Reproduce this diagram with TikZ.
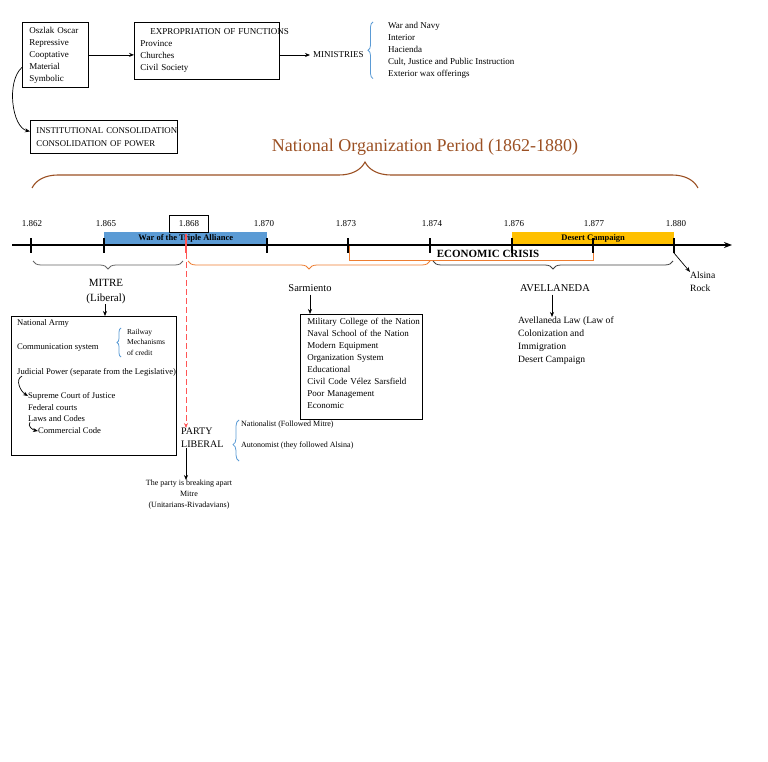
\documentclass[tikz,border=0pt]{standalone}
\usepackage{fontspec}
\setmainfont{Liberation Serif}
\usepackage{tikz}
\usetikzlibrary{arrows.meta, positioning, decorations.pathreplacing}
\usepackage{xcolor}

\definecolor{periodbrown}{RGB}{155,80,35}
\definecolor{warblue}{RGB}{91,155,213}
\definecolor{desertgold}{RGB}{255,192,0}
\definecolor{crisisorange}{RGB}{237,125,49}
\definecolor{dashred}{RGB}{255,85,85}
\definecolor{bracegray}{RGB}{100,100,100}

\newcommand{\fsz}[2]{\fontsize{#1}{#2}\selectfont}

\begin{document}
\begin{tikzpicture}[
		x=1pt, y=-1pt,
		box/.style={
			rectangle,
			draw,
			line width=0.8pt,
			anchor=north west,
			align=left,
			inner xsep=6pt,
			inner ysep=4pt,
			font=\fsz{9}{12}
		},
		txt/.style={
			inner sep=0pt,
			anchor=west,
			align=left,
			font=\fsz{9}{12}
		},
		bar/.style={
			rectangle,
			anchor=south west,
			minimum height=13pt,
			inner sep=0pt,
			font=\bfseries\fsz{8.5}{10}
		},
		year/.style={
			inner sep=0pt,
			font=\fsz{9}{10}
		},
		arrow/.style={
			-{Stealth[length=5pt, width=4pt]},
			line width=0.7pt
		},
		reddash/.style={
			dashred,
			line width=1pt,
			dash pattern=on 6pt off 3pt,
			-{Stealth[length=5pt, width=4pt]}
		},
		brace/.style={
			decorate,
			decoration={brace, amplitude=#1},
			line width=0.8pt
		},
		mbrace/.style={
			decorate,
			decoration={brace, mirror, amplitude=#1},
			line width=0.8pt
		}
		]
		\useasboundingbox (0,0) rectangle (768,762);
		
		% top row
		\node[box, text width=52pt, inner xsep=7pt, minimum height=65pt] (oszlak) at (22,22) {Oszlak Oscar\\Repressive\\Cooptative\\Material\\Symbolic};
		
		\node[box, text width=133pt, minimum height=57pt] (expro) at (134,22) {\hspace*{10pt}\mbox{EXPROPRIATION OF FUNCTIONS}\\Province\\Churches\\Civil Society};
		
		\node[txt] (ministries) at (313,55) {MINISTRIES};
		
		\node[txt, anchor=north west] (minlist) at (388,22) {War and Navy\\Interior\\Hacienda\\Cult, Justice and Public Instruction\\Exterior wax offerings};
		
		\node[box, text width=135pt, minimum height=33pt, font=\fsz{8.8}{13}] (instit) at (30,120) {\mbox{INSTITUTIONAL CONSOLIDATION}\\\mbox{CONSOLIDATION OF POWER}};
		%--
		\draw[arrow] (oszlak.east) -- (oszlak.east -| expro.west);
		\draw[arrow] (expro.east |- ministries.west) -- ([xshift=-3pt]ministries.west);
		\draw[brace=5pt, warblue] ([xshift=-15pt]minlist.south west) -- ([xshift=-15pt]minlist.north west);
		\draw[arrow] ([yshift=-12.5pt]oszlak.west) .. controls +(-16,14) and +(-18,-4) .. ([yshift=5.5pt]instit.west);
		
		% period
		\node[font=\fsz{18}{20}, text=periodbrown, inner sep=0pt] (period) at (425,147) {National Organization Period (1862-1880)};
		\draw[brace=26pt, periodbrown, line width=1.1pt] (32,188) -- (698,188);
		
		% timeline
		\node[draw=crisisorange, line width=0.9pt, minimum width=244pt, minimum height=15pt, anchor=north west, inner sep=0pt] (crisis) at (349,245) {};
		\node[font=\bfseries\fsz{11}{12}, inner sep=0pt] (crisislbl) at (488,254) {ECONOMIC CRISIS};
		
		\node[bar, fill=warblue, minimum width=163pt] (war) at (104,245) {War of the Triple Alliance};
		\node[bar, fill=desertgold, minimum width=162pt] (desert) at (512,245) {Desert Campaign};
		
		\coordinate (tstart) at (12,245);
		\coordinate (tend) at (732,245);
		\draw[line width=1.6pt, -{Stealth[length=8pt, width=6pt]}] (tstart) -- (tend);
		
		\foreach \pos/\tx/\yr [count=\i] in {31/32/1.862, 104/106/1.865, 267/264/1.870, 348/346/1.873, 430/432/1.874, 512/514/1.876, 593/594/1.877, 674/676/1.880}{
			\coordinate (t\i) at (\pos,253);
			\draw[line width=1.2pt] (\pos,238) -- (t\i);
			\node[year] (yr\i) at (\tx,224) {\yr};
		}
		
		\node[year, draw, line width=0.8pt, minimum width=39pt, minimum height=17pt] (yr868) at (189,224) {1.868};
		\coordinate (split) at (186,234);
		\draw[dashred, line width=1.2pt] (split) -- ++(0,19);
		
		% braces under the line
		\draw[mbrace=8pt, bracegray] (33,261) -- (183,261);
		\draw[mbrace=8pt, crisisorange] (188,261) -- (430,261);
		\draw[mbrace=8pt, black!75] (433,261) -- (673,261);
		
		% mitre
		\node[font=\fsz{11}{15}, align=center, inner sep=0pt] (mitre) at (106,292) {MITRE\\(Liberal)};
		\node[draw, line width=0.8pt, minimum width=165pt, minimum height=139pt, anchor=north west, inner sep=0pt] (mitrebox) at (11,316) {};
		\draw[arrow] ([xshift=-1pt]mitre.south) -- ([xshift=-1pt]mitre.south |- mitrebox.north);
		
		\node[txt, font=\fsz{8.6}{12}] (army) at (17,323) {National Army};
		\node[txt, font=\fsz{8.6}{12}] (comms) at (17,348) {Communication system};
		\node[txt, anchor=north west, font=\fsz{7.5}{10.5}] (credit) at (127,329) {Railway\\Mechanisms\\of credit};
		\draw[brace=4pt, warblue] (121,357) -- (121,328);
		\node[txt, font=\fsz{8.6}{12}] (judicial) at (17,372) {Judicial Power (separate from the Legislative)};
		\node[txt, font=\fsz{8.6}{12}] (supreme) at (28,396) {Supreme Court of Justice};
		\node[txt, font=\fsz{8.6}{12}] (federal) at (28,408) {Federal courts};
		\node[txt, font=\fsz{8.6}{12}] (laws) at (28,419) {Laws and Codes};
		\node[txt, font=\fsz{8.6}{12}] (commercial) at (38,431) {Commercial Code};
		\draw[arrow] ([xshift=5pt]judicial.south west) .. controls +(-7,3) and +(-8,-5) .. (supreme.west);
		\draw[arrow] ([xshift=2pt]laws.south west) .. controls +(-3,4) and +(-5,-1) .. (commercial.west);
		
		% sarmiento
		\node[font=\fsz{10.5}{12}, inner sep=0pt] (sarmiento) at (310,288) {Sarmiento};
		\node[box, text width=108pt, inner xsep=7pt, minimum height=105pt] (sarmbox) at (300,314) {\mbox{Military College of the Nation}\\Naval School of the Nation\\Modern Equipment\\Organization System\\Educational\\Civil Code Vélez Sarsfield\\Poor Management\\Economic\\[-5pt]\mbox{}};
		\draw[arrow] ([yshift=-3pt]sarmiento.south) -- (sarmiento.south |- sarmbox.north);
		
		% avellaneda
		\node[font=\fsz{10.5}{12}, inner sep=0pt] (avellaneda) at (555,288) {AVELLANEDA};
		\node[txt, anchor=north west, font=\fsz{9.6}{12.7}] (avellist) at (518,317) {Avellaneda Law (Law of\\Colonization and\\Immigration\\Desert Campaign};
		\draw[arrow] ([xshift=-3pt, yshift=-3pt]avellaneda.south) -- ([xshift=-3pt]avellaneda.south |- avellist.north);
		
		\node[txt, font=\fsz{9.6}{13}] (alsina) at (690,282) {Alsina\\Rock};
		\draw[arrow] (t8) -- (alsina.north west);
		
		% party
		\node[txt, anchor=north west, font=\fsz{10}{13}] (party) at (181,428) {PARTY\\LIBERAL};
		\draw[reddash] ([yshift=-19pt]split) -- (split |- party.north);
		\draw[brace=6pt, warblue, decoration={aspect=0.4}] (239,461) -- (239,420);
		\node[txt, font=\fsz{8}{10}] (nationalist) at (241,425) {Nationalist (Followed Mitre)};
		\node[txt, font=\fsz{8}{10}] (autonomist) at (241,446) {Autonomist (they followed Alsina)};
		\node[font=\fsz{8}{11}, align=center, inner sep=0pt, anchor=north] (breakup) at (189,480) {The party is breaking apart\\Mitre\\(Unitarians-Rivadavians)};
		\draw[arrow] (split |- party.south) -- (split |- breakup.north);
		
	\end{tikzpicture}
\end{document}
